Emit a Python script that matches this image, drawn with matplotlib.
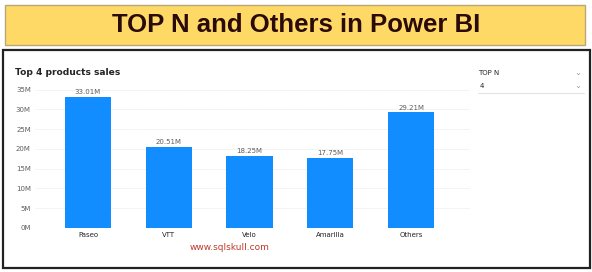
import matplotlib.pyplot as plt
from matplotlib.patches import Rectangle

products = ['Paseo', 'VTT', 'Velo', 'Amarilla', 'Others']
sales_m = [33.01, 20.51, 18.25, 17.75, 29.21]
value_labels = ['33.01M', '20.51M', '18.25M', '17.75M', '29.21M']
y_ticks = [0, 5, 10, 15, 20, 25, 30, 35]
y_tick_labels = ['0M', '5M', '10M', '15M', '20M', '25M', '30M', '35M']

W, H = 592, 272
fig = plt.figure(figsize=(W / 100, H / 100), dpi=100)
fig.patch.set_facecolor('white')


def px(x, y):
    # pixel coords (top-left origin) -> figure fraction
    return x / W, 1 - y / H


# yellow banner
x0, y0 = px(5, 45)
fig.patches.append(Rectangle((x0, y0), 580 / W, 40 / H, transform=fig.transFigure,
                             facecolor='#FFD966', edgecolor='#b9a77a', lw=1, zorder=-10))
fig.text(*px(296, 25), 'TOP N and Others in Power BI', ha='center', va='center',
         fontsize=18.5, fontweight='bold', family='Liberation Sans', color='#2b0a0a')

# report frame
x0, y0 = px(3, 268)
fig.patches.append(Rectangle((x0, y0), 587 / W, 218 / H, transform=fig.transFigure,
                             facecolor='white', edgecolor='#222222', lw=1.6, zorder=-10))

fig.text(*px(15, 73), 'Top 4 products sales', ha='left', va='center',
         fontsize=6.6, fontweight='bold', color='#252423')

# bar chart
l, b = px(35, 228)
r, t = px(470, 88)
ax = fig.add_axes([l, b, r - l, t - b])
ax.patch.set_alpha(0)
pos = list(range(len(products)))
ax.bar(pos, sales_m, width=0.57, color='#118DFF')
for p, v, s in zip(pos, sales_m, value_labels):
    ax.text(p, v + 0.5, s, ha='center', va='bottom', fontsize=5, color='#605e5c')
ax.set_xlim(-0.656, 4.73)
ax.set_ylim(0, 35.4)
ax.set_yticks(y_ticks)
ax.set_yticklabels(y_tick_labels, fontsize=5, color='#605e5c')
ax.set_xticks(pos)
ax.set_xticklabels(products, fontsize=5, color='#252423')
ax.tick_params(length=0, pad=3)
ax.grid(axis='y', color='#e6e6e6', lw=0.6, linestyle=(0, (1, 1)))
ax.set_axisbelow(True)
for s in ax.spines.values():
    s.set_visible(False)

# slicer
fig.text(*px(478, 73), 'TOP N', ha='left', va='center', fontsize=5, color='#252423')
fig.text(*px(578, 73), '\u2304', ha='center', va='center', fontsize=6, color='#999999')
fig.text(*px(480, 86), '4', ha='left', va='center', fontsize=5, color='#252423')
fig.text(*px(578, 86), '\u2304', ha='center', va='center', fontsize=6, color='#999999')
fig.lines.append(plt.Line2D([478 / W, 584 / W], [1 - 93 / H, 1 - 93 / H],
                            transform=fig.transFigure, color='#dddddd', lw=0.6))

# watermark
fig.text(*px(230, 248), 'www.sqlskull.com', ha='center', va='center',
         fontsize=6.5, color='#c0392b')

fig.savefig('out.png', dpi=100)
